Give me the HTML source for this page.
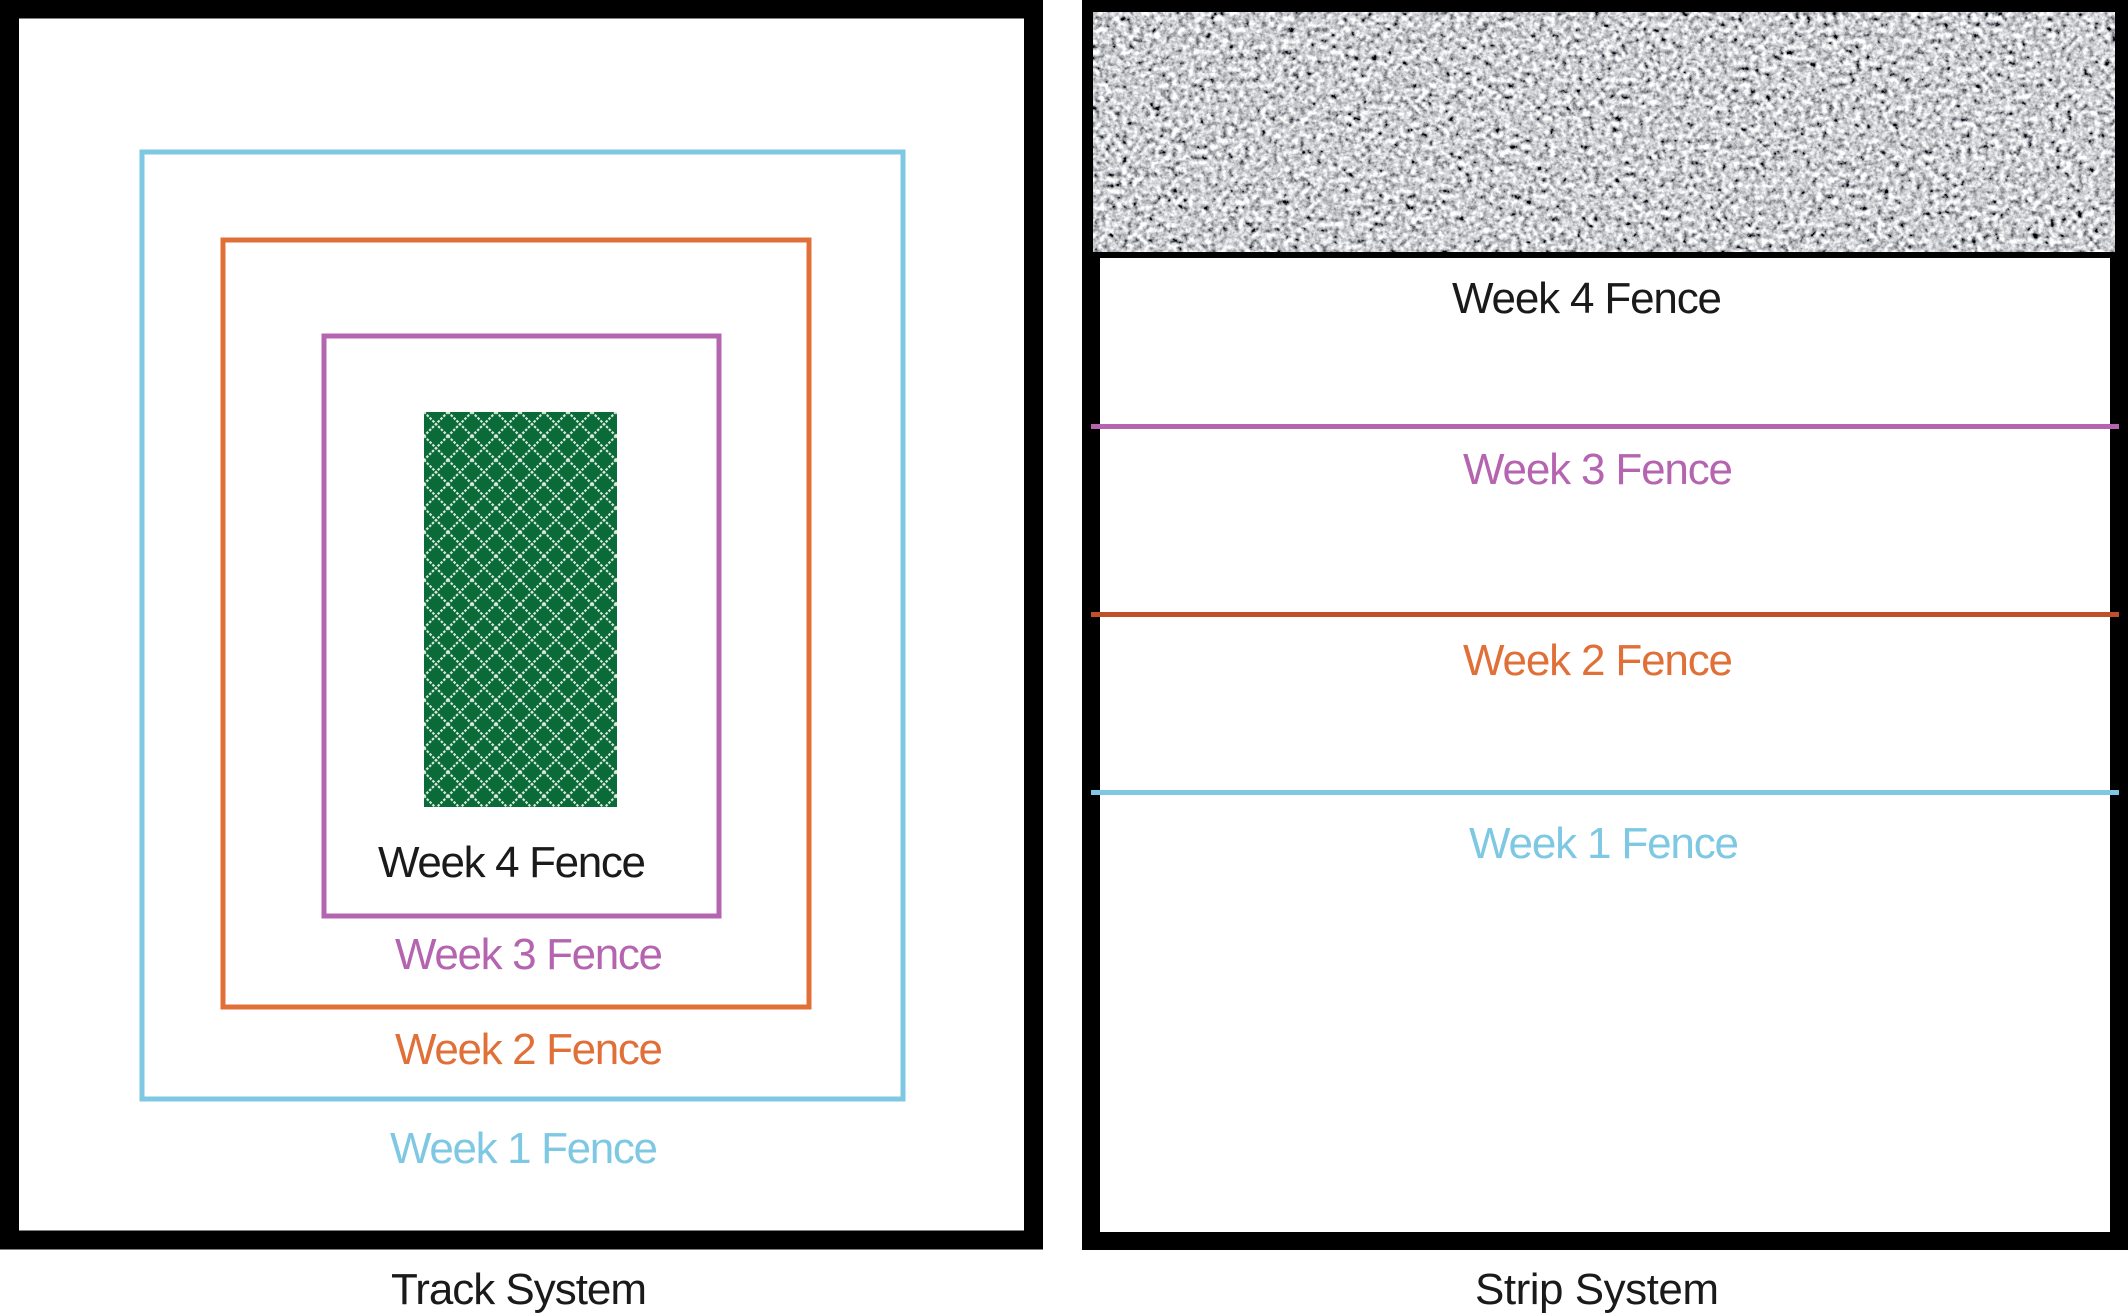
<!DOCTYPE html>
<html><head><meta charset="utf-8"><style>
html,body{margin:0;padding:0;background:#fff;width:2128px;height:1316px;overflow:hidden}
text{font-family:"Liberation Sans",sans-serif;font-size:44px;text-anchor:middle}
</style></head><body>
<svg width="2128" height="1316" viewBox="0 0 2128 1316" xmlns="http://www.w3.org/2000/svg">
<defs>
<pattern id="lat" width="24" height="24" patternUnits="userSpaceOnUse" x="424" y="412">
<rect width="24" height="24" fill="#0a6a38"/>
<path d="M0 0L24 24M24 0L0 24" stroke="#d8eadc" stroke-width="2.2" stroke-dasharray="2.5 1.5"/>
</pattern>
<filter id="grav" x="0" y="0" width="100%" height="100%">
<feTurbulence type="fractalNoise" baseFrequency="0.18" numOctaves="4" seed="4"/>
<feColorMatrix type="matrix" values="0.33 0.33 0.33 0 0  0.33 0.33 0.33 0 0  0.33 0.33 0.33 0 0  0 0 0 0 1"/>
<feComponentTransfer><feFuncR type="linear" slope="3.2" intercept="-0.98"/><feFuncG type="linear" slope="3.2" intercept="-0.97"/><feFuncB type="linear" slope="3.2" intercept="-0.95"/></feComponentTransfer>
</filter>
</defs>
<!-- Left panel -->
<rect x="9.5" y="9" width="1024" height="1231" fill="#fff" stroke="#000" stroke-width="19"/>
<rect x="142" y="152" width="761" height="947" fill="none" stroke="#7ec8e3" stroke-width="5"/>
<rect x="223" y="240" width="586" height="767" fill="none" stroke="#e07038" stroke-width="5"/>
<rect x="324" y="336" width="395" height="580" fill="none" stroke="#b565b0" stroke-width="5"/>
<rect x="424" y="412" width="193" height="395" fill="url(#lat)"/>
<text x="512" y="877" fill="#1a1a1a" textLength="268">Week 4 Fence</text>
<text x="529" y="969" fill="#b565b0" textLength="268">Week 3 Fence</text>
<text x="529" y="1064" fill="#e07038" textLength="268">Week 2 Fence</text>
<text x="524" y="1163" fill="#7ec8e3" textLength="268">Week 1 Fence</text>
<text x="519" y="1304" fill="#1a1a1a" textLength="256">Track System</text>
<!-- Right panel -->
<rect x="1091" y="6" width="1028" height="1235" fill="#fff" stroke="#000" stroke-width="18"/>
<rect x="1093" y="12" width="1022" height="240" filter="url(#grav)"/>
<rect x="1093" y="252" width="1022" height="6" fill="#000"/>
<rect x="1091" y="424" width="1028" height="5" fill="#b565b0"/>
<rect x="1091" y="612" width="1028" height="5" fill="#c0502a"/>
<rect x="1091" y="790" width="1028" height="5" fill="#7ec8e3"/>
<text x="1587" y="313" fill="#1a1a1a" textLength="270">Week 4 Fence</text>
<text x="1598" y="484" fill="#b565b0" textLength="270">Week 3 Fence</text>
<text x="1598" y="675" fill="#e07038" textLength="270">Week 2 Fence</text>
<text x="1604" y="858" fill="#7ec8e3" textLength="270">Week 1 Fence</text>
<text x="1597" y="1304" fill="#1a1a1a" textLength="244">Strip System</text>
</svg>
</body></html>
